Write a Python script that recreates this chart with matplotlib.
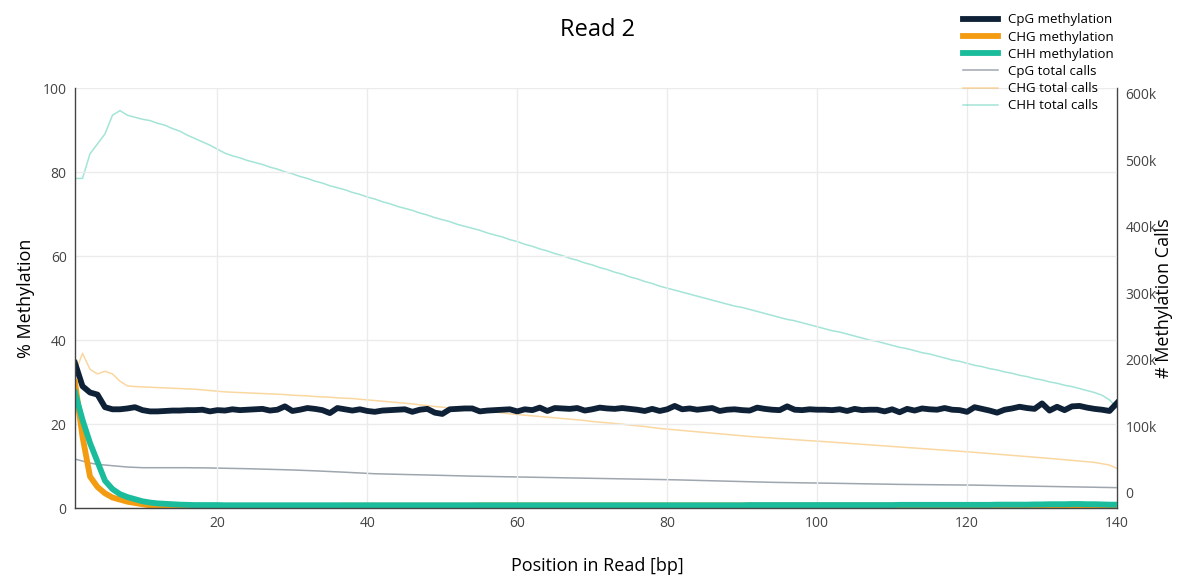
import matplotlib
matplotlib.use("Agg")
import matplotlib.pyplot as plt
import numpy as np

positions = list(range(1, 141))

cpg_meth = [34.5,29,27.5,27,24,23.5,23.5,23.7,24,23.3,
            23,23,23.1,23.2,23.2,23.3,23.3,23.4,23,23.3,
            23.2,23.5,23.3,23.4,23.5,23.6,23.2,23.4,24.2,23.1,
            23.4,23.8,23.6,23.3,22.6,23.8,23.5,23.2,23.5,23.1,
            22.9,23.2,23.3,23.4,23.5,22.9,23.4,23.6,22.7,22.4,
            23.5,23.6,23.7,23.7,23,23.2,23.3,23.4,23.5,23,
            23.5,23.3,23.9,23.1,23.8,23.7,23.6,23.8,23.2,23.5,
            23.9,23.7,23.6,23.8,23.6,23.4,23.1,23.6,23.1,23.5,
            24.3,23.5,23.7,23.4,23.6,23.8,23.1,23.4,23.5,23.3,
            23.2,23.9,23.6,23.4,23.3,24.2,23.4,23.3,23.5,23.4,
            23.4,23.3,23.5,23.1,23.6,23.3,23.4,23.4,23,23.5,
            22.8,23.6,23.2,23.7,23.5,23.4,23.8,23.4,23.3,22.9,
            24,23.6,23.2,22.7,23.4,23.7,24.1,23.8,23.6,24.9,
            23.2,24.1,23.3,24.2,24.3,23.9,23.6,23.4,23.1,25]

chg_meth = [30,17,7.5,5,3.5,2.5,2,1.5,1.2,0.9,
            0.6,0.45,0.4,0.4,0.4,0.4,0.45,0.45,0.45,0.45,
            0.5,0.5,0.5,0.5,0.5,0.5,0.5,0.5,0.5,0.5,
            0.5,0.5,0.5,0.5,0.5,0.5,0.55,0.55,0.55,0.55,
            0.55,0.55,0.55,0.55,0.55,0.55,0.55,0.55,0.55,0.55,
            0.55,0.55,0.55,0.55,0.6,0.6,0.6,0.6,0.6,0.6,
            0.6,0.6,0.6,0.6,0.6,0.6,0.6,0.6,0.6,0.6,
            0.6,0.6,0.6,0.6,0.6,0.6,0.6,0.6,0.6,0.6,
            0.6,0.6,0.6,0.6,0.6,0.6,0.6,0.6,0.6,0.6,
            0.6,0.6,0.6,0.6,0.6,0.6,0.6,0.6,0.6,0.6,
            0.6,0.6,0.6,0.6,0.6,0.6,0.6,0.6,0.6,0.6,
            0.6,0.6,0.6,0.6,0.6,0.6,0.6,0.6,0.6,0.6,
            0.6,0.6,0.6,0.6,0.6,0.6,0.6,0.6,0.6,0.6,
            0.6,0.6,0.6,0.6,0.6,0.6,0.6,0.6,0.6,0.6]

chh_meth = [27.5,21,15.5,11,6.5,4.5,3.3,2.6,2.1,1.6,
            1.3,1.1,1.0,0.9,0.8,0.75,0.7,0.7,0.7,0.7,
            0.65,0.65,0.65,0.65,0.65,0.65,0.65,0.65,0.65,0.65,
            0.65,0.65,0.65,0.65,0.65,0.65,0.65,0.65,0.65,0.65,
            0.65,0.65,0.65,0.65,0.65,0.65,0.65,0.65,0.65,0.65,
            0.65,0.65,0.65,0.65,0.65,0.65,0.65,0.65,0.65,0.65,
            0.65,0.65,0.65,0.65,0.65,0.65,0.65,0.65,0.65,0.65,
            0.65,0.65,0.65,0.65,0.65,0.65,0.65,0.65,0.65,0.65,
            0.65,0.65,0.65,0.65,0.65,0.65,0.65,0.65,0.65,0.65,
            0.7,0.7,0.7,0.7,0.7,0.7,0.7,0.7,0.7,0.7,
            0.7,0.7,0.7,0.7,0.7,0.7,0.7,0.7,0.7,0.7,
            0.75,0.75,0.75,0.75,0.75,0.75,0.75,0.75,0.75,0.75,
            0.75,0.75,0.75,0.8,0.8,0.8,0.8,0.8,0.85,0.85,
            0.9,0.9,0.9,0.95,0.95,0.9,0.9,0.85,0.8,0.8]

cpg_total = [51,48,45,43,42,41,40,39,38.5,38,
             38,38,38,38,38,38,37.8,37.8,37.6,37.5,
             37.3,37.1,36.8,36.5,36.2,35.9,35.6,35.3,35,34.6,
             34.2,33.8,33.3,32.8,32.3,31.8,31.2,30.6,30,29.4,
             28.9,28.6,28.3,28,27.8,27.6,27.3,27,26.7,26.4,
             26.1,25.8,25.6,25.3,25.1,24.9,24.7,24.5,24.3,24,
             23.8,23.6,23.4,23.2,23,22.8,22.6,22.4,22.2,22,
             21.8,21.6,21.4,21.2,21,20.8,20.6,20.4,20.2,20,
             19.8,19.5,19.2,18.9,18.6,18.3,18,17.6,17.3,17,
             16.7,16.4,16.2,16,15.8,15.6,15.4,15.2,15.1,15,
             14.8,14.6,14.4,14.2,14,13.8,13.6,13.4,13.2,13,
             12.9,12.8,12.7,12.6,12.5,12.4,12.3,12.2,12.1,12,
             11.8,11.6,11.4,11.2,11,10.8,10.6,10.4,10.2,10,
             9.8,9.6,9.4,9.2,9,8.8,8.6,8.4,8.2,8]

chg_total = [180,210,186,179,183,179,168,161,160,159.5,
             159,158.5,158,157.5,157,156.5,156,155,154,153,
             152,151.5,151,150.5,150,149.5,149,148.5,148,147,
             146.5,146,145,144.5,144,143,142.5,142,141,140,
             139,138,137,136,135,134,132.5,131.5,130,129,
             128,127,126,125,124,123,121.5,120.5,119,118,
             117,116,115,114,113,112,111,110,109,107.5,
             106.5,105.5,104.5,103.5,102,101,100,98.5,97,96,
             95,94,93,92,91,90,89,88,87,86,
             85,84.2,83.4,82.6,81.8,81,80.2,79.4,78.6,78,
             77.2,76.4,75.6,74.8,74,73.2,72.4,71.6,70.8,70,
             69.2,68.4,67.6,66.8,66,65.2,64.4,63.6,62.8,62,
             61.1,60.2,59.3,58.4,57.5,56.6,55.7,54.8,53.9,53,
             52,51,50,49,48,47,46,44,42,37]

chh_total = [473,473,510,525,540,568,575,568,565,562,
             560,556,553,548,544,538,533,528,523,517,
             511,507,504,500,497,494,490,487,483,480,
             476,473,469,466,462,459,456,452,449,445,
             442,438,435,431,428,425,421,418,414,411,
             408,404,401,398,395,391,388,385,381,378,
             374,371,367,364,360,357,353,350,346,343,
             339,336,332,329,325,322,318,315,311,308,
             305,302,299,296,293,290,287,284,281,279,
             276,273,270,267,264,261,259,256,253,250,
             247,244,242,239,236,233,230,228,225,222,
             219,217,214,211,209,206,203,200,198,195,
             192,190,187,185,182,180,177,175,172,170,
             167,165,162,160,157,154,151,147,140,128]

C_CPG = "#0e2136"
C_CHG = "#f39c12"
C_CHH = "#1abc9c"

plt.rcParams['font.family'] = ['Open Sans', 'DejaVu Sans']
fig = plt.figure(figsize=(11.84, 5.83), dpi=100)
ax = fig.add_axes([75/1184, 1-508/583, (1117-75)/1184, (508-88)/583])
ax2 = ax.twinx()
ax.set_zorder(2); ax.patch.set_visible(False)

x = np.array(positions)
h = []
h += ax.plot(x, cpg_meth, color=C_CPG, lw=4.2, label="CpG methylation", solid_joinstyle='round')
h += ax.plot(x, chg_meth, color=C_CHG, lw=4.2, label="CHG methylation")
h += ax.plot(x, chh_meth, color=C_CHH, lw=4.2, label="CHH methylation")
h += ax2.plot(x, np.array(cpg_total)*1000, color=C_CPG, lw=1.1, alpha=0.4, label="CpG total calls")
h += ax2.plot(x, np.array(chg_total)*1000, color=C_CHG, lw=1.1, alpha=0.4, label="CHG total calls")
h += ax2.plot(x, np.array(chh_total)*1000, color=C_CHH, lw=1.1, alpha=0.4, label="CHH total calls")
ax.set_xlim(1, 140)
ax.set_ylim(0, 100)
ax2.set_ylim(-22600, 609000)
ax.set_xticks([20, 40, 60, 80, 100, 120, 140])
ax.set_yticks([0, 20, 40, 60, 80, 100])
ax2.set_yticks([0, 100000, 200000, 300000, 400000, 500000, 600000])
ax2.set_yticklabels(["0", "100k", "200k", "300k", "400k", "500k", "600k"])
ax.grid(True, color="#ebebeb", lw=1)
for a in (ax, ax2):
    a.tick_params(length=0, labelsize=10, colors="#444444", pad=6)
    a.spines['top'].set_visible(False)
    for s in ('left', 'bottom', 'right'):
        a.spines[s].set_color("#444444")
        a.spines[s].set_linewidth(1)
ax.spines['right'].set_visible(False)
ax2.spines['left'].set_visible(False)
ax2.spines['bottom'].set_visible(False)

fig.text(26/1184, 1-298/583, "% Methylation", fontsize=13, rotation=90, ha='center', va='center')
fig.text(1164/1184, 1-298/583, "# Methylation Calls", fontsize=13, rotation=90, ha='center', va='center')
fig.text(597/1184, 1-566/583, "Position in Read [bp]", fontsize=13, ha='center', va='center')
fig.text(597/1184, 1-30/583, "Read 2", fontsize=17, ha='center', va='center')
fig.legend(handles=h, loc='upper left', bbox_to_anchor=(958/1184, 1-8/583), frameon=False,
           fontsize=9.5, handlelength=2.6, labelspacing=0.32, borderaxespad=0)
fig.savefig("out.png", dpi=100)
